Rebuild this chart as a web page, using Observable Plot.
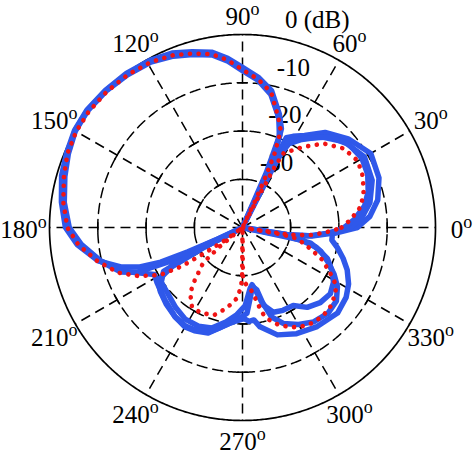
<!DOCTYPE html>
<html><head><meta charset="utf-8">
<script src="https://cdn.jsdelivr.net/npm/d3@7"></script>
<script src="https://cdn.jsdelivr.net/npm/@observablehq/plot@0.6"></script>
<style>
body{margin:0;background:#fff}
#chart svg, #chart svg text{font-family:"Liberation Serif","Times New Roman",serif}
</style>
</head><body><div id="chart"></div>
<script>
// ---- axes ----
const spokeAngles = [0,30,60,90,120,150,180,210,240,270,300,330];
const angleLabels = ["0","30","60","90","120","150","180","210","240","270","300","330"];
const ringDb = [-30,-20,-10];
const outerDb = 0;
const dbMin = -40;
const dbLabels = ["0 (dB)","-10","-20","-30"];
const dbLabelValues = [0,-10,-20,-30];

// ---- simulated pattern (red dotted) ----
const redAngle = [0,4,10,16,23,30,38,46,53,58,61,62,62.5,63.5,64.5,65.5,66.5,68.5,72,78,84,90,95,100,106,112,119,127,135,143,150,157,164,172,180,186,193,200,205,210,212.5,214,216.5,218.5,220,222,228.5,231.5,237.5,244,252,259,265.5,268.5,269.5,270,270.5,272,276,279,281,283,286,290.5,296,300,306,312,318,325,329,332.5,338,342,345.5,348.5,350,350.6,351.2,352,354,358,360];
const redDb = [-19.5,-17.6,-15.1,-13.9,-12.9,-12.4,-13.4,-15.8,-19.1,-21.3,-22.2,-25.5,-31.7,-40,-33.8,-28.6,-23.4,-18.4,-16.0,-11.4,-9.1,-7.3,-5.2,-3.5,-2.5,-1.5,-0.8,-0.4,-0.2,-0.1,-0.2,-0.6,-1.5,-2.5,-3.7,-5.8,-9.1,-12.6,-16.2,-20.3,-24.9,-30.3,-35.9,-40,-33.8,-29.0,-24.7,-22.6,-20.5,-20.3,-20.9,-23.0,-25.3,-27.6,-29.6,-40,-29.6,-28.6,-27.6,-26.3,-24.2,-21.8,-20.1,-18.4,-17.0,-16.2,-15.5,-15.2,-15.5,-16.4,-17.6,-19.5,-22.2,-24.9,-26.9,-28.6,-31.7,-40,-30.7,-28.6,-25.3,-21.3,-19.5];

// ---- measured patterns (blue) ----
const blueAAngle = [0,4,10,16,23,30,38,46,53,58,62,63.5,64.5,65.5,66.5,68.5,72,78,84,90,95,100,106,112,119,127,135,143,150,157,164,172,180,186,193,198,201,203,204,205,205.5,207,209,212,218,225,233,240,245,252,258,263,267,273,276.5,279.5,283,285,288,293,300,307,315,322,328,333,338,343,347,349,350,351,353,356,360];
const blueADb = [-18.9,-16.8,-14.3,-12.9,-11.8,-11.4,-12.0,-13.9,-16.8,-18.4,-19.7,-27.6,-40,-29.6,-23.0,-18.0,-15.3,-11.0,-8.7,-6.8,-4.8,-3.1,-2.1,-1.0,-0.4,0.0,0.2,0.4,0.2,-0.4,-1.0,-2.1,-3.3,-5.6,-9.3,-13.5,-17.2,-21.6,-27.6,-33.8,-40,-31.7,-23.4,-19.3,-18.4,-17.6,-16.8,-16.4,-16.6,-17.2,-18.9,-20.1,-20.9,-22.2,-25.5,-27.6,-26.7,-23.8,-20.5,-18.4,-16.8,-15.5,-14.9,-15.3,-16.8,-18.7,-20.9,-23.0,-25.5,-30.7,-40,-30.7,-25.5,-21.8,-18.9];

const blueBAngle = [0,5,11.5,20,30,40,49,56,61,64,65,65.5,66.5,68,71,78,84,90,95,100,106,112,119,127,135,143,150,157,164,172,180,186,193,200,204,208,213,223,233,240,245,252,258,263,267,271,274,277,280,288,297,307,318,326,332,338,343,348,352,356,360];
const blueBDb = [-16.2,-13.5,-11.4,-9.9,-9.3,-11.4,-13.9,-17.0,-18.4,-19.3,-29.6,-40,-27.6,-19.7,-16.4,-11.8,-9.3,-7.5,-5.4,-3.7,-2.7,-1.7,-0.8,-0.4,0,0.2,0,-0.8,-1.7,-2.7,-4.1,-6.4,-9.7,-13.5,-16.8,-19.3,-18.9,-18.0,-16.8,-16.2,-16.4,-17.0,-18.9,-20.1,-20.7,-21.1,-20.5,-20.7,-19.1,-16.6,-15.3,-14.3,-13.5,-14.1,-15.1,-16.6,-18.2,-19.9,-21.3,-21.3,-16.2];

const blueCAngle = [0,5,11,20,30,40,49,56,61,63,63.8,64.8,66,68,72,78,84,90,95,100,106,112,119,127,135,143,150,157,164,172,180,186,193,200,203,205,206,207,209,214,222,230,238,246,253,260,266,272,277,279.5,282,285,290,296,303,309,316,323,329,334,340,345,348,349.5,351,353,356,360];
const blueCDb = [-17.6,-15.1,-13.1,-11.4,-10.8,-12.4,-15.1,-18.0,-20.1,-23.4,-40,-31.7,-25.5,-19.3,-15.8,-11.4,-8.9,-7.0,-5.0,-3.3,-2.3,-1.2,-0.6,-0.2,0.1,0.3,0.1,-0.6,-1.2,-2.3,-3.5,-6.0,-9.5,-13.1,-16.2,-23.4,-40,-29.6,-21.3,-19.7,-19.3,-18.4,-17.6,-17.6,-18.2,-20.1,-21.8,-23.8,-27.2,-28.0,-26.5,-23.4,-21.3,-20.9,-20.7,-18.7,-17.6,-17.2,-18.0,-19.3,-21.3,-24.2,-27.6,-40,-29.6,-25.9,-22.6,-17.6];

// ---- helpers: polar (angle, dB) -> sphere near the pole ----
const rOf = db => (db - dbMin) / (outerDb - dbMin);   // 0 at centre, 1 at 0 dB
const lon = a => a + 90;
const latR = r => 90 - r;
const labelR = a => 1.10 + 0.035 * Math.cos(a * Math.PI / 180) ** 2;

const rows = (name, A, D) => A.map((a, i) => ({trace: name, angle: a, db: D[i]}));
const blueRows = [...rows("B", blueBAngle, blueBDb), ...rows("C", blueCAngle, blueCDb), ...rows("A", blueAAngle, blueADb)];
const redRows = rows("sim", redAngle, redDb);

const crossRows = spokeAngles.flatMap(a => ringDb.map(v => ({a, v})));
const tickHalf = 0.027; // fraction of outer radius
const dAng = v => (tickHalf / rOf(v)) * 180 / Math.PI;

const angleRows = spokeAngles.map((a, i) => ({a, label: angleLabels[i]}));
const dbRows = dbLabelValues.map((v, i) => ({v, label: dbLabels[i]}));

const circle = r => d3.geoCircle().center([0, 90]).radius(r).precision(0.5)();
const serif = "Liberation Serif";

const plot = Plot.plot({
  width: 474,
  height: 460,
  marginLeft: 49, marginRight: 39, marginTop: 34, marginBottom: 40,
  projection: {type: "azimuthal-equidistant", rotate: [0, -90], domain: circle(1), clip: false},
  style: {fontFamily: serif, fontSize: "25px", color: "black", background: "white"},
  marks: [
    Plot.geo(ringDb, {geometry: v => circle(rOf(v)), fill: "none", stroke: "black", strokeWidth: 1.5, strokeDasharray: "10,6"}),
    Plot.link(spokeAngles, {x1: a => lon(a), y1: 90, x2: a => lon(a), y2: latR(1), stroke: "black", strokeWidth: 1.5, strokeDasharray: "10,6"}),
    Plot.link(crossRows, {x1: d => lon(d.a - dAng(d.v)), y1: d => latR(rOf(d.v)), x2: d => lon(d.a + dAng(d.v)), y2: d => latR(rOf(d.v)), stroke: "black", strokeWidth: 1.5}),
    Plot.geo([outerDb], {geometry: v => circle(rOf(v)), fill: "none", stroke: "black", strokeWidth: 1.7}),
    Plot.text(angleRows, {x: d => lon(d.a), y: d => latR(labelR(d.a)), text: "label", textAnchor: "middle", lineAnchor: "middle", fontSize: 25, fontFamily: serif, dy: 2}),
    Plot.text(dbRows, {x: () => lon(80), y: d => latR(rOf(d.v)), text: "label", textAnchor: "start", lineAnchor: "middle", dx: 9, dy: -17, fontSize: 25, fontFamily: serif}),
    Plot.line(blueRows, {x: d => lon(d.angle), y: d => latR(rOf(d.db)), z: "trace", stroke: "#2f58ea", strokeWidth: 5.5, strokeLinejoin: "round", strokeLinecap: "round"}),
    Plot.line(redRows, {x: d => lon(d.angle), y: d => latR(rOf(d.db)), stroke: "#f01414", strokeWidth: 4.6, strokeDasharray: "0.1,8.6", strokeLinecap: "round", strokeLinejoin: "round"})
  ]
});

plot.querySelectorAll("text").forEach(t => {
  const s = t.textContent;
  if (!angleLabels.includes(s)) return;
  t.textContent = s;
  const sup = document.createElementNS("http://www.w3.org/2000/svg", "tspan");
  sup.setAttribute("font-size", "0.72em");
  sup.setAttribute("dy", "-0.55em");
  sup.textContent = "o";
  t.appendChild(sup);
});

document.getElementById("chart").appendChild(plot);
</script>
</body></html>
